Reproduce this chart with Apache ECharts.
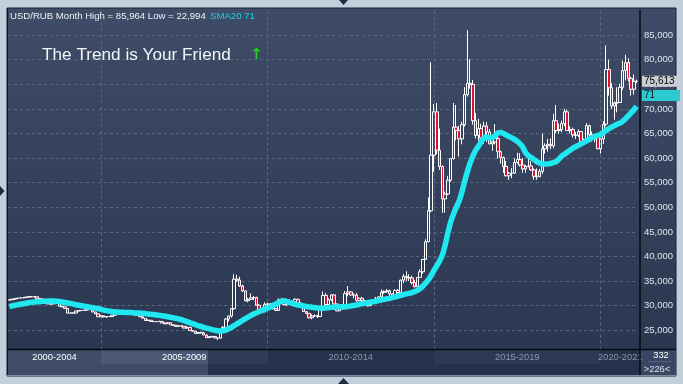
<!DOCTYPE html>
<html><head><meta charset="utf-8">
<script src="https://cdn.jsdelivr.net/npm/echarts@6/dist/echarts.min.js"></script>
<style>html,body{margin:0;padding:0;background:#c3cedb;overflow:hidden}#c{width:683px;height:384px}</style>
</head><body><div id="c"></div>
<script>
// ---------- DATA (monthly USD/RUB, Apr 2002 .. Feb 2021) ----------
const startYear = 2002, startMonth = 4;
const open = [
 31.15,31.20,31.33,31.45,31.55,31.60,31.64,31.75,31.85,
 31.78,31.82,31.40,31.39,31.16,30.70,30.35,30.37,30.52,30.61,29.90,29.78,
 29.45,28.49,28.52,28.51,28.92,29.03,29.03,29.10,29.24,29.22,28.72,28.35,
 27.75,27.95,27.70,27.80,27.78,28.05,28.65,28.62,28.48,28.50,28.70,28.78,
 28.76,28.10,28.12,27.76,27.45,27.00,27.05,26.80,26.75,26.78,26.80,26.48,
 26.33,26.55,26.12,26.01,25.80,25.92,25.82,25.45,25.60,24.95,24.80,24.38,
 24.55,24.48,24.05,23.52,23.68,23.75,23.45,23.40,24.60,25.60,27.30,27.90,
 29.40,35.40,35.20,34.00,33.00,31.00,31.30,31.60,31.70,30.10,28.90,28.75,
 30.25,30.40,29.85,29.40,29.05,31.20,31.15,30.20,30.70,30.60,30.80,31.30,
 30.50,29.75,28.80,28.45,27.55,27.90,28.00,27.80,29.10,32.10,30.25,31.20,
 32.20,30.35,28.95,29.35,29.40,32.45,32.80,32.20,32.15,31.10,31.50,31.05,
 30.45,30.00,30.65,31.10,31.40,31.80,32.70,32.90,33.00,32.40,32.05,33.10,
 32.70,35.20,35.95,35.70,35.65,34.70,33.85,35.75,36.90,39.40,43.00,49.30,
 60.60,69.40,61.60,58.30,51.70,52.70,55.50,59.90,66.30,65.60,63.90,66.80,
 72.90,75.20,75.00,67.60,64.60,66.00,64.10,66.50,65.30,62.90,63.30,64.00,
 61.30,60.10,58.30,56.40,56.90,56.95,59.10,59.70,58.60,57.80,58.30,58.40,
 57.60,56.30,56.20,57.30,61.90,62.50,62.80,62.50,67.60,65.60,65.80,67.00,
 69.40,65.60,65.80,64.70,64.60,65.40,63.10,63.70,66.60,64.80,63.90,64.20,
 61.90,63.90,66.90,78.00,74.30,70.60,71.20,71.30,74.40,77.80,79.40,76.20,
 74.00,75.613];
const high = [
 31.25,31.35,31.45,31.60,31.65,31.66,31.80,31.88,31.96,
 31.88,31.85,31.45,31.40,31.17,30.80,30.45,30.60,30.62,30.62,29.98,29.80,
 29.50,28.56,28.55,28.95,29.05,29.10,29.15,29.25,29.26,29.24,28.75,28.40,
 28.15,28.00,27.85,27.90,28.10,28.70,28.75,28.65,28.55,28.75,28.90,28.85,
 28.80,28.25,28.15,27.80,27.50,27.20,27.10,26.90,26.88,26.95,26.82,26.55,
 26.65,26.60,26.20,26.05,25.98,26.00,25.85,25.90,25.65,25.00,24.85,24.65,
 24.70,24.70,24.20,23.80,23.90,23.80,23.50,24.65,25.85,27.50,28.00,29.50,
 36.40,36.30,35.90,34.30,33.10,31.60,32.50,32.00,31.80,30.30,29.50,30.70,
 30.60,30.50,29.90,29.50,31.50,31.60,31.20,30.85,31.30,31.00,31.50,31.40,
 30.70,29.80,28.90,28.50,28.25,28.20,28.15,29.50,32.90,32.60,31.50,32.30,
 32.30,30.40,29.70,29.80,33.00,34.00,33.00,32.50,32.60,31.70,31.80,31.20,
 30.50,30.70,31.30,31.80,31.90,33.30,33.10,33.40,33.30,32.50,33.30,33.40,
 35.30,36.40,37.00,36.40,36.10,35.20,35.80,37.40,39.50,43.50,52.00,79.50,
 71.00,71.20,66.00,58.50,53.20,56.40,60.00,71.20,70.80,66.60,67.40,74.40,
 85.964,80.10,75.90,69.20,68.00,67.00,67.40,67.30,65.90,63.50,66.90,65.00,
 61.50,60.30,59.40,57.20,58.00,60.00,61.10,61.00,60.00,58.60,60.70,59.40,
 57.90,57.90,57.80,65.00,63.00,63.90,64.00,69.00,70.80,67.00,67.60,70.00,
 69.80,66.50,66.20,65.30,65.80,65.50,64.00,67.10,66.80,65.40,64.60,64.40,
 64.00,67.50,82.90,80.00,75.20,71.50,74.40,75.10,79.80,81.00,80.30,76.50,
 77.00,75.95];
const low = [
 31.08,31.18,31.30,31.42,31.50,31.55,31.60,31.70,31.75,
 31.70,31.35,31.20,31.10,30.65,30.35,30.30,30.35,30.48,29.85,29.70,29.40,
 28.48,28.45,28.48,28.50,28.90,29.00,29.00,29.08,29.15,28.70,28.30,27.75,
 27.72,27.65,27.50,27.70,27.75,28.00,28.55,28.40,28.40,28.45,28.65,28.70,
 28.05,28.00,27.70,27.40,26.95,26.95,26.78,26.70,26.70,26.72,26.45,26.25,
 26.30,26.10,25.95,25.75,25.80,25.78,25.40,25.35,24.90,24.75,24.30,24.30,
 24.35,24.00,23.50,23.45,23.55,23.40,22.994,23.35,24.50,25.50,26.80,27.60,
 29.20,34.90,33.80,32.80,30.90,30.70,31.20,31.10,30.00,28.70,28.60,28.70,
 29.40,29.80,29.25,28.90,28.95,30.80,30.10,29.90,30.50,29.90,30.60,30.40,
 29.60,28.80,28.25,27.40,27.25,27.75,27.50,27.70,29.00,30.20,30.20,30.90,
 30.30,28.90,28.95,29.20,29.30,31.90,32.00,31.50,30.80,30.80,30.95,30.40,
 29.85,29.95,30.50,30.90,30.60,31.60,32.40,32.60,31.90,31.80,31.95,32.50,
 32.60,34.60,35.00,35.00,34.30,33.70,33.80,35.60,36.50,39.30,42.90,49.00,
 57.20,60.80,57.60,48.90,48.90,52.50,55.20,59.70,63.60,60.30,62.80,66.40,
 72.50,74.10,66.80,64.00,63.50,63.60,62.90,63.30,62.80,61.50,62.80,59.90,
 58.90,57.00,56.30,55.60,55.90,56.80,58.90,58.30,57.00,57.00,58.10,57.40,
 55.60,55.60,56.20,56.80,60.90,61.30,61.80,62.00,65.10,64.90,65.30,66.50,
 65.50,65.00,64.20,63.90,64.30,62.90,62.60,63.50,63.60,63.40,63.20,61.80,
 60.90,62.90,66.50,72.70,70.00,67.80,69.30,71.30,73.90,75.80,75.60,72.70,
 72.90,75.25];
const close = [
 31.20,31.33,31.45,31.55,31.60,31.64,31.75,31.85,31.78,
 31.82,31.40,31.39,31.16,30.70,30.35,30.37,30.52,30.61,29.90,29.78,29.45,
 28.49,28.52,28.51,28.92,29.03,29.03,29.10,29.24,29.22,28.72,28.35,27.75,
 27.95,27.70,27.80,27.78,28.05,28.65,28.62,28.48,28.50,28.70,28.78,28.76,
 28.10,28.12,27.76,27.45,27.00,27.05,26.80,26.75,26.78,26.80,26.48,26.33,
 26.55,26.12,26.01,25.80,25.92,25.82,25.45,25.60,24.95,24.80,24.38,24.55,
 24.48,24.05,23.52,23.68,23.75,23.45,23.40,24.60,25.60,27.30,27.90,29.40,
 35.40,35.20,34.00,33.00,31.00,31.30,31.60,31.70,30.10,28.90,28.75,30.25,
 30.40,29.85,29.40,29.05,31.20,31.15,30.20,30.70,30.60,30.80,31.30,30.50,
 29.75,28.80,28.45,27.55,27.90,28.00,27.80,29.10,32.10,30.25,31.20,32.20,
 30.35,28.95,29.35,29.40,32.45,32.80,32.20,32.15,31.10,31.50,31.05,30.45,
 30.00,30.65,31.10,31.40,31.80,32.70,32.90,33.00,32.40,32.05,33.10,32.70,
 35.20,35.95,35.70,35.65,34.70,33.85,35.75,36.90,39.40,43.00,49.30,60.60,
 69.40,61.60,58.30,51.70,52.70,55.50,59.90,66.30,65.60,63.90,66.80,72.90,
 75.20,75.00,67.60,64.60,66.00,64.10,66.50,65.30,62.90,63.30,64.00,61.30,
 60.10,58.30,56.40,56.90,56.95,59.10,59.70,58.60,57.80,58.30,58.40,57.60,
 56.30,56.20,57.30,61.90,62.50,62.80,62.50,67.60,65.60,65.80,67.00,69.40,
 65.60,65.80,64.70,64.60,65.40,63.10,63.70,66.60,64.80,63.90,64.20,61.90,
 63.90,66.90,78.00,74.30,70.60,71.20,71.30,74.40,77.80,79.40,76.20,74.00,
 75.60,75.613];
const sma20 = [
 29.8,29.95,30.1,30.2,30.3,30.4,30.5,30.6,30.7,30.75,
 30.8,30.85,30.9,30.9,30.95,30.95,30.95,30.9,30.85,30.75,
 30.65,30.55,30.45,30.35,30.2,30.1,30.0,29.9,29.8,29.7,
 29.6,29.5,29.4,29.25,29.1,29.0,28.9,28.8,28.75,28.7,
 28.65,28.65,28.6,28.6,28.6,28.55,28.5,28.5,28.45,28.4,
 28.3,28.25,28.2,28.1,28.05,27.95,27.85,27.75,27.65,27.55,
 27.45,27.3,27.15,26.95,26.75,26.55,26.35,26.15,25.95,25.8,
 25.6,25.45,25.3,25.15,25.0,24.9,24.85,24.9,25.05,25.3,
 25.6,25.95,26.3,26.65,27.0,27.35,27.7,28.0,28.3,28.55,
 28.8,29.05,29.3,29.5,29.75,30.05,30.35,30.65,30.9,31.0,
 30.85,30.65,30.45,30.3,30.15,30.05,29.95,29.85,29.75,29.7,
 29.6,29.55,29.5,29.5,29.55,29.6,29.7,29.7,29.75,29.75,
 29.8,29.8,29.85,29.95,30.05,30.15,30.3,30.4,30.5,30.6,
 30.7,30.8,30.9,31.05,31.15,31.3,31.4,31.5,31.65,31.8,
 31.95,32.1,32.25,32.4,32.5,32.65,32.85,33.1,33.5,34.0,
 34.6,35.3,36.2,37.2,38.1,39.1,40.3,42.3,44.8,47.0,
 48.6,50.0,51.2,53.0,55.2,57.2,59.0,60.4,61.6,62.4,
 63.3,64.1,64.3,64.1,64.2,64.6,65.1,65.2,65.0,64.7,
 64.4,64.1,63.8,63.4,62.9,62.2,61.1,60.5,60.1,59.7,
 59.3,59.0,58.85,58.8,58.8,58.9,59.1,59.3,59.8,60.4,
 60.8,61.2,61.6,62.0,62.3,62.6,62.9,63.2,63.5,63.8,
 64.2,64.4,64.6,64.8,65.2,65.6,66.0,66.3,66.6,66.9,
 67.1,67.5,68.0,68.6,69.2,69.8,70.5];
const navBlocks = ['2000-2004','2005-2009','2010-2014','2015-2019','2020-2021'];
const navBlockStarts = ['2005-01','2010-01','2015-01','2020-01'];
const title = 'USD/RUB Month';
const note = 'The Trend is Your Friend';
const barCountText = '332', visibleText = '>226<';

// ---------- BUILD ----------
const months = close.map((_, i) => {
  const m = startMonth - 1 + i;
  return (startYear + Math.floor(m / 12)) + '-' + String(m % 12 + 1).padStart(2, '0');
});
const candles = months.map((_, i) => [open[i], close[i], low[i], high[i]]);
const fmt = (v) => v.toFixed(3).replace('.', ',');
const hi = Math.max(...high), lo = Math.min(...low);
const lastClose = close[close.length - 1], lastSma = sma20[sma20.length - 1];
const FONT = '"Liberation Sans", Arial, sans-serif';

const chart = echarts.init(document.getElementById('c'), null, {renderer: 'canvas'});
const GRID = {left: 8, top: 10.5, width: 630, height: 344.4};
chart.setOption({
  animation: false,
  backgroundColor: 'transparent',
  grid: GRID,
  xAxis: {
    type: 'category', data: months, boundaryGap: true,
    axisLine: {show: false}, axisTick: {show: false}, axisLabel: {show: false},
    splitLine: {show: true, alignWithLabel: true,
      interval: (i, v) => v.endsWith('-01') && (+v.slice(0, 4)) % 5 === 0,
      lineStyle: {color: '#5b6985', type: [3, 3], width: 1}}
  },
  yAxis: {
    type: 'value', position: 'right', min: 20, max: 90, interval: 5, offset: 2,
    axisLine: {show: true, lineStyle: {color: '#06090f', width: 1.5}},
    axisTick: {show: false},
    axisLabel: {color: '#dfe4ec', fontSize: 9.5, fontFamily: FONT, margin: 4,
      formatter: v => (v < 25 || v > 85) ? '' : fmt(v)},
    splitLine: {show: true, showMinLine: false, showMaxLine: false,
      lineStyle: {color: '#58667f', type: [3, 3], width: 1}}
  },
  series: [
    {
      type: 'candlestick', data: candles, barWidth: 3, z: 2,
      itemStyle: {color: 'rgba(0,0,0,0)', color0: '#e3102e',
        borderColor: '#ffffff', borderColor0: '#ffffff', borderWidth: 1},
      markLine: {
        silent: true, symbol: ['none', 'none'], animation: false,
        lineStyle: {color: 'rgba(0,0,0,0)', width: 0},
        data: [{yAxis: lastClose}],
        label: {show: true, position: 'end', distance: 4, formatter: fmt(lastClose),
          backgroundColor: '#c8ccd3', color: '#000', fontSize: 10, fontFamily: FONT,
          padding: [1, 3, 0, 2], width: 33}
      }
    },
    {
      type: 'line', data: sma20, smooth: 0.4, symbol: 'none', z: 3,
      lineStyle: {color: '#20e8f0', width: 5.5},
      markLine: {
        silent: true, symbol: ['none', 'none'], animation: false,
        lineStyle: {color: 'rgba(0,0,0,0)', width: 0},
        data: [{yAxis: lastSma}],
        label: {show: true, position: 'end', distance: 4, offset: [0, -11],
          formatter: String(Math.round(lastSma)),
          backgroundColor: '#2bcbd1', color: '#082020', fontSize: 10, fontFamily: FONT,
          padding: [1, 3, 0, 2], width: 33}
      }
    }
  ]
});

// navigator geometry from the category axis
const px = (cat) => chart.convertToPixel({xAxisIndex: 0}, cat);
const bounds = [GRID.left].concat(navBlockStarts.map(px), [640]);
const NY = 349.5, NH = 25.5;
const g = [];
g.push({type: 'rect', z: -100, shape: {x: 7, y: 8, width: 669, height: 368},
  style: {fill: new echarts.graphic.LinearGradient(0, 0, 0, 1, [
    {offset: 0, color: '#3f4c67'}, {offset: 1, color: '#2a3650'}]), stroke: '#1a2334', lineWidth: 1}});
// navigator
g.push({type: 'rect', z: 100, shape: {x: 8, y: NY, width: 632, height: NH}, style: {fill: '#25324c'}});
g.push({type: 'rect', z: 100, shape: {x: 8, y: NY + 14, width: 200, height: NH - 14}, style: {fill: '#3d4b67'}});
const topCols = ['#3f4d69', '#4b5976', '#25324c', '#2c3955', '#25324c'];
for (let k = 0; k < 5; k++) {
  g.push({type: 'rect', z: 100, shape: {x: bounds[k], y: NY + 0.5, width: bounds[k + 1] - bounds[k], height: 14},
    style: {fill: topCols[k]}});
}
g.push({type: 'rect', z: 100, shape: {x: 208, y: NY + 0.5, width: 60, height: 14}, style: {fill: '#2f3c58'}});
for (let k = 0; k < 5; k++) {
  const cx = (bounds[k] + bounds[k + 1]) / 2;
  g.push({type: 'text', z: 101, style: {x: cx, y: 357.5, text: navBlocks[k], fill: k < 2 ? '#ffffff' : '#8c97aa',
    font: '9.3px ' + FONT, textAlign: 'center', textVerticalAlign: 'middle'}});
}
// right panel of navigator
g.push({type: 'rect', z: 100, shape: {x: 640, y: NY, width: 36, height: NH}, style: {fill: '#3a4764'}});
g.push({type: 'text', z: 101, style: {x: 661, y: 355.5, text: barCountText, fill: '#ffffff', font: '9.3px ' + FONT, textAlign: 'center', textVerticalAlign: 'middle'}});
g.push({type: 'line', z: 101, shape: {x1: 648, y1: 361.5, x2: 672, y2: 361.5}, style: {stroke: '#56637e', lineWidth: 1}});
g.push({type: 'text', z: 101, style: {x: 657, y: 369.5, text: visibleText, fill: '#dfe3ea', font: '9.3px ' + FONT, textAlign: 'center', textVerticalAlign: 'middle'}});
// frame lines
g.push({type: 'line', z: 102, shape: {x1: 7, y1: 349.5, x2: 676, y2: 349.5}, style: {stroke: '#06090f', lineWidth: 1.5}});
g.push({type: 'line', z: 102, shape: {x1: 640, y1: 349, x2: 640, y2: 375}, style: {stroke: '#06090f', lineWidth: 1.5}});
g.push({type: 'line', z: 102, shape: {x1: 7.5, y1: 8, x2: 7.5, y2: 375}, style: {stroke: '#0e1420', lineWidth: 1}});
g.push({type: 'line', z: 102, shape: {x1: 7, y1: 375.5, x2: 676, y2: 375.5}, style: {stroke: '#7f8ca0', lineWidth: 1}});
// header texts
g.push({type: 'text', z: 101, style: {x: 10, y: 16, text: title + ' High = ' + fmt(hi) + ' Low = ' + fmt(lo),
  fill: '#eef1f6', font: '9.6px ' + FONT, textVerticalAlign: 'middle'}});
g.push({type: 'text', z: 101, style: {x: 210, y: 16, text: 'SMA20 ' + Math.round(lastSma),
  fill: '#1fd3da', font: '9.6px ' + FONT, textVerticalAlign: 'middle'}});
g.push({type: 'text', z: 101, style: {x: 42, y: 55, text: note, fill: '#f3f5f9',
  font: '17.2px ' + FONT, textVerticalAlign: 'middle'}});
g.push({type: 'text', z: 101, style: {x: 256.5, y: 55.5, text: '↑', fill: '#1ed21e',
  font: 'bold 15px "DejaVu Sans", sans-serif', textAlign: 'center', textVerticalAlign: 'middle'}});
// ui arrows on the frame
g.push({type: 'polygon', z: 102, shape: {points: [[339, 0], [348, 0], [343.5, 5]]}, style: {fill: '#1f2b40'}});
g.push({type: 'polygon', z: 102, shape: {points: [[338, 384], [349, 384], [343.5, 378]]}, style: {fill: '#1f2b40'}});
g.push({type: 'polygon', z: 102, shape: {points: [[0, 186], [0, 196], [4.5, 191]]}, style: {fill: '#1f2b40'}});
chart.setOption({graphic: {elements: g}});
</script></body></html>
